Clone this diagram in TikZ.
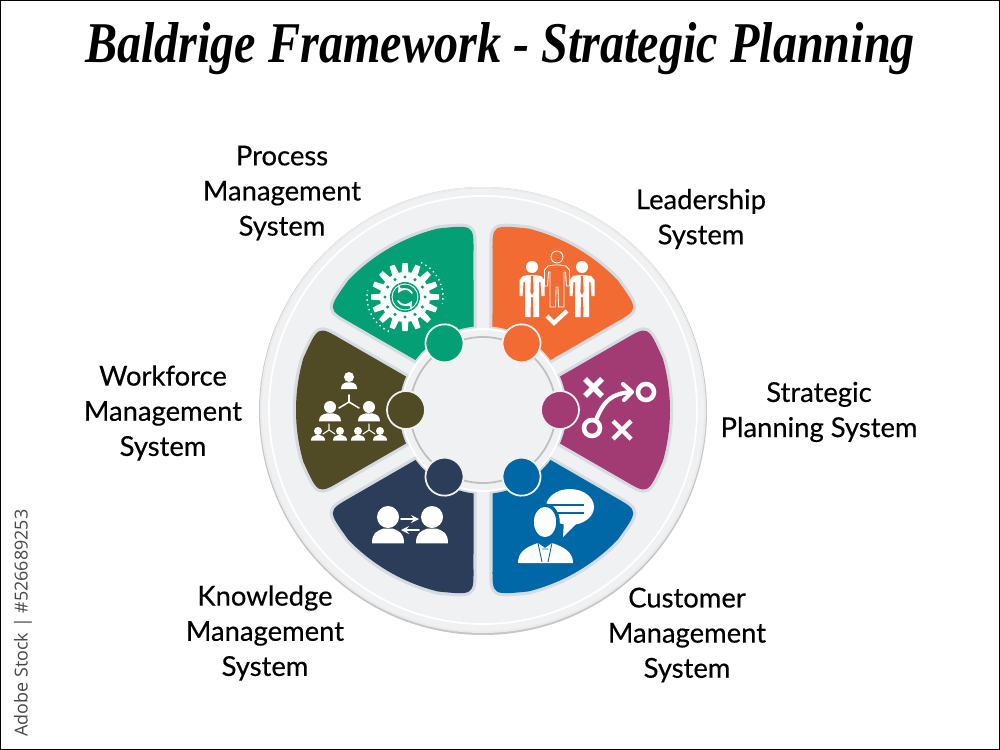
\documentclass[tikz,border=0pt]{standalone}
\usepackage{fontspec}
\setmainfont{Lato}[FakeBold=0.4]
\newfontfamily\titlefont{Liberation Serif}
\newfontfamily\stockfont{Open Sans}
\definecolor{orangeseg}{HTML}{F26B32}
\definecolor{greenseg}{HTML}{049F75}
\definecolor{magentaseg}{HTML}{A23A74}
\definecolor{blueseg}{HTML}{0168A8}
\definecolor{navyseg}{HTML}{2B3D58}
\definecolor{oliveseg}{HTML}{504A25}
\definecolor{discgray}{HTML}{F0F1F3}
\definecolor{edgegray}{HTML}{D5DBE0}
\tikzset{
  seglabel/.style={align=center,font=\fontsize{15.6}{20}\selectfont,text=black},
  segdot/.style={draw=discgray,line width=1pt},
  wline/.style={draw=white,line width=#1,line cap=round,line join=round}
}
% head and shoulders: x, y, head radius, half width
\newcommand{\bust}[4]{
  \fill[white] (#1,#2) circle (#3);
  \fill[white,shift={(#1,#2)}] (-#4,2.4*#3) .. controls (-#4,1.4*#3) and (-.7*#4,1.3*#3) .. (-.3*#4,1.05*#3)
    -- (.3*#4,1.05*#3) .. controls (.7*#4,1.3*#3) and (#4,1.4*#3) .. (#4,2.4*#3) -- cycle;
}
% standing man: x, y of the head, path options
\newcommand{\standman}[3]{
  \path[#3,shift={(#1,#2)}] (0,0) circle (6);
  \path[#3,shift={(#1,#2)}] (-3,8) -- (-9,9) -- (-12.5,13) -- (-12.5,29) -- (-9.5,29) -- (-8.5,15) -- (-7,15)
    -- (-7,50) -- (-1.5,50) -- (-1,30) -- (1,30) -- (1.5,50) -- (7,50) -- (7,15) -- (8.5,15)
    -- (9.5,29) -- (12.5,29) -- (12.5,13) -- (9,9) -- (3,8) -- cycle;
}
\begin{document}
\begin{tikzpicture}[x=0.02cm,y=0.02cm,yscale=-1]
\useasboundingbox (0,0) rectangle (1000,750);
\draw[black,line width=.8pt] (0.5,0.5) rectangle (999.5,749.5);

\node (title) at (500,49) {\resizebox{16.6cm}{0.8cm}{\titlefont\bfseries\itshape Baldrige Framework - Strategic Planning}};
\node[rotate=90,text=black!72,font=\stockfont\fontsize{10.2}{12}\selectfont] (stock) at (23,623) {Adobe Stock | \#526689253};

% disc
\fill[black!22] (483,411) circle (224);
\fill[black!8] (483,410) circle (223);
\fill[discgray] (483,410) circle (221);
\draw[white,line width=1pt] (483,410) circle (214);

% segments
\foreach \ang/\segcol in {-60/orangeseg,0/magentaseg,60/blueseg,120/navyseg,180/oliveseg,240/greenseg}{
  \begin{scope}[shift={(483,410)},rotate=\ang]
    \fill[preaction={draw=edgegray,line width=3.6pt},fill=\segcol] (142,71) .. controls (165,84.5) .. (16:187)
      arc[start angle=16,end angle=-16,radius=187] .. controls (165,-84.5) .. (142,-71)
      -- (77,-33.5) arc[start angle=-23.5,end angle=23.5,radius=84] -- cycle;
  \end{scope}
}

% middle
\fill[white] (483,410) circle (82);
\fill[discgray] (483,410) circle (80);
\draw[black!25,line width=1pt] (483,410) circle (73);

\foreach \ang/\segcol in {-60/orangeseg,0/magentaseg,60/blueseg,120/navyseg,180/oliveseg,240/greenseg}{
  \draw[segdot,fill=\segcol,shift={(483,410)},rotate=\ang] (77,0) circle (19);
}

% process icon
\begin{scope}[shift={(405,297)}]
  \foreach \a in {0,22.5,...,337.5}{
    \fill[white,rotate=\a] (-2.6,-34) -- (2.6,-34) -- (3.6,-22) -- (-3.6,-22) -- cycle;
  }
  \fill[white] (0,0) circle (25);
  \foreach \a in {0,30,...,330}{
    \fill[greenseg] (\a:20) circle (1.7);
  }
  \fill[greenseg] (0,0) circle (15);
  \draw[white,line width=.5pt] (0,0) circle (13);
  \draw[wline=1pt,-stealth] (150:8) arc[start angle=150,end angle=30,radius=8];
  \draw[wline=1pt,-stealth] (-30:8) arc[start angle=-30,end angle=-150,radius=8];
  \draw[white,dotted,line width=.8pt] (-65:38) arc[start angle=-65,end angle=10,radius=38];
  \draw[white,dotted,line width=.8pt] (115:38) arc[start angle=115,end angle=190,radius=38];
\end{scope}

% leadership icon
\standman{532}{267}{fill=white}
\standman{582}{267}{fill=white}
\standman{557}{257}{draw=white,line width=.5pt}
\fill[orangeseg] (531,276) -- (533,276) -- (533.6,292) -- (532,295) -- (530.4,292) -- cycle;
\fill[orangeseg] (581,276) -- (583,276) -- (583.6,292) -- (582,295) -- (580.4,292) -- cycle;
\draw[wline=2.4pt,line cap=butt,line join=miter] (547,316) -- (554,323) -- (567,311);

% strategic icon
\draw[wline=3.2pt,line cap=butt] (585,379) -- (602,396) (602,379) -- (585,396);
\draw[white,line width=2.6pt] (646,392) circle (8);
\draw[white,line width=2.6pt] (592,428) circle (8);
\draw[wline=2.6pt,line cap=butt] (613,421) -- (631,439) (631,421) -- (613,439);
\draw[white,line width=2.4pt] (596,420) .. controls (604,400) and (612,394) .. (630,392);
\draw[wline=2.4pt] (623,384) -- (632,392) -- (624,400);

% workforce icon
\bust{349}{377}{5}{8}
\draw[wline=.9pt] (349,395) -- (349,402) (349,402) -- (339,408) (349,402) -- (359,408);
\bust{330}{407}{6}{11}
\bust{369}{407}{6}{11}
\bust{318}{431}{4}{7}
\bust{340}{431}{4}{7}
\bust{358}{431}{4}{7}
\bust{380}{431}{4}{7}
\draw[wline=.6pt] (329,424) -- (329,430) -- (323,434) (329,430) -- (335,434);
\draw[wline=.6pt] (369,424) -- (369,430) -- (363,434) (369,430) -- (375,434);

% knowledge icon
\bust{388}{517}{11}{16}
\bust{432}{517}{11}{16}
\draw[wline=1pt,-stealth] (401,519) -- (419,519);
\draw[wline=1pt,-stealth] (419,530) -- (401,530);

% customer icon
\fill[white] (570,507) ellipse (24 and 18);
\fill[white] (564,520) -- (563,537) -- (578,522) -- cycle;
\draw[blueseg,line width=1pt] (548,505) -- (584,505) (552,513) -- (584,513);
\draw[blueseg,line width=2pt,fill=white] (545,522) ellipse (13 and 17);
\fill[white] (518,563) .. controls (518,552) and (526,547) .. (538,543) -- (545,548) -- (552,543)
  .. controls (564,547) and (573,552) .. (573,563) -- cycle;
\draw[blueseg,line width=.5pt] (538,543) -- (542,562) (552,543) -- (548,562) (542,549) -- (548,549);

% labels
\node[seglabel] (process) at (282,193) {Process\\Management\\System};
\node[seglabel] (leadership) at (701,219) {Leadership\\System};
\node[seglabel] (strategic) at (819,412) {Strategic\\Planning System};
\node[seglabel] (workforce) at (163,413) {Workforce\\Management\\System};
\node[seglabel] (knowledge) at (265,633) {Knowledge\\Management\\System};
\node[seglabel] (customer) at (687,635) {Customer\\Management\\System};
\end{tikzpicture}
\end{document}
